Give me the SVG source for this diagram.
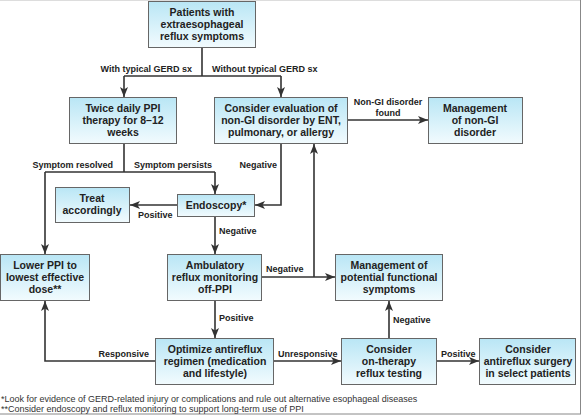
<svg xmlns="http://www.w3.org/2000/svg" width="583" height="416" viewBox="0 0 583 416">
<defs>
<linearGradient id="g" x1="0" y1="0" x2="0" y2="1">
<stop offset="0" stop-color="#b9e6f5"/>
<stop offset="1" stop-color="#f2fbfe"/>
</linearGradient>
<marker id="a" viewBox="0 0 10 10" refX="10" refY="5" markerWidth="10" markerHeight="10" markerUnits="userSpaceOnUse" orient="auto">
<path d="M0,1 L10,5 L0,9 L2.5,5 Z" fill="#333"/>
</marker>
<style>
.b{fill:url(#g);stroke:#666;stroke-width:1}
.t{font-family:"Liberation Sans",Arial,sans-serif;font-weight:bold;font-size:10.5px;fill:#222;text-anchor:middle}
.l{font-family:"Liberation Sans",Arial,sans-serif;font-weight:bold;font-size:9px;fill:#222}
.c{fill:none;stroke:#333;stroke-width:1.6}
.f{font-family:"Liberation Sans",Arial,sans-serif;font-size:9px;fill:#333}
</style>
</defs>
<rect x="0" y="0" width="583" height="416" fill="#fff"/>
<line x1="0" y1="0.5" x2="581" y2="0.5" stroke="#ddd" stroke-width="1"/>
<line x1="580.5" y1="0" x2="580.5" y2="414" stroke="#888" stroke-width="1"/>
<line x1="0" y1="414" x2="581" y2="414" stroke="#888" stroke-width="1"/>

<g id="connectors">
<path class="c" d="M202,48 V76"/>
<path class="c" d="M124,76 H281"/>
<path class="c" d="M124,76 V97" marker-end="url(#a)"/>
<path class="c" d="M281,76 V97" marker-end="url(#a)"/>
<path class="c" d="M348,120 H428" marker-end="url(#a)"/>
<path class="c" d="M124,144 V172"/>
<path class="c" d="M45,172 H215"/>
<path class="c" d="M45,172 V254" marker-end="url(#a)"/>
<path class="c" d="M215,172 V194" marker-end="url(#a)"/>
<path class="c" d="M281,144 V205 H255" marker-end="url(#a)"/>
<path class="c" d="M177,205 H130" marker-end="url(#a)"/>
<path class="c" d="M215,216 V254" marker-end="url(#a)"/>
<path class="c" d="M262,277 H335" marker-end="url(#a)"/>
<path class="c" d="M314,277 V144" marker-end="url(#a)"/>
<path class="c" d="M215,301 V338" marker-end="url(#a)"/>
<path class="c" d="M155,361 H45 V301" marker-end="url(#a)"/>
<path class="c" d="M274,361 H341" marker-end="url(#a)"/>
<path class="c" d="M389,338 V301" marker-end="url(#a)"/>
<path class="c" d="M437,361 H479" marker-end="url(#a)"/>
<text class="l" x="192" y="72" text-anchor="end">With typical GERD sx</text>
<text class="l" x="212" y="72">Without typical GERD sx</text>
<text class="l" x="388" y="105" text-anchor="middle">Non-GI disorder</text>
<text class="l" x="388" y="116" text-anchor="middle">found</text>
<text class="l" x="113" y="168" text-anchor="end">Symptom resolved</text>
<text class="l" x="134" y="168">Symptom persists</text>
<text class="l" x="277" y="168" text-anchor="end">Negative</text>
<text class="l" x="138" y="218">Positive</text>
<text class="l" x="219" y="234">Negative</text>
<text class="l" x="266" y="272">Negative</text>
<text class="l" x="219" y="321">Positive</text>
<text class="l" x="149" y="357" text-anchor="end">Responsive</text>
<text class="l" x="278" y="357">Unresponsive</text>
<text class="l" x="393" y="323">Negative</text>
<text class="l" x="441" y="357">Positive</text>
</g>

<g id="patients"><rect class="b" x="148.5" y="1.5" width="107" height="46"/>
<text class="t" x="202" y="16">Patients with</text><text class="t" x="202" y="28">extraesophageal</text><text class="t" x="202" y="40">reflux symptoms</text></g>

<g id="ppi"><rect class="b" x="69.5" y="97.5" width="107" height="46"/>
<text class="t" x="123" y="112">Twice daily PPI</text><text class="t" x="123" y="124">therapy for 8–12</text><text class="t" x="123" y="136">weeks</text></g>

<g id="eval"><rect class="b" x="214.5" y="97.5" width="133" height="46"/>
<text class="t" x="281" y="112">Consider evaluation of</text><text class="t" x="281" y="124">non-GI disorder by ENT,</text><text class="t" x="281" y="136">pulmonary, or allergy</text></g>

<g id="nongi"><rect class="b" x="428.5" y="97.5" width="94" height="46"/>
<text class="t" x="475" y="112">Management</text><text class="t" x="475" y="124">of non-GI</text><text class="t" x="475" y="136">disorder</text></g>

<g id="treat"><rect class="b" x="55.5" y="187.5" width="74" height="35"/>
<text class="t" x="92" y="202">Treat</text><text class="t" x="92" y="214">accordingly</text></g>

<g id="endoscopy"><rect class="b" x="177.5" y="194.5" width="77" height="22"/>
<text class="t" x="216" y="209">Endoscopy*</text></g>

<g id="lower"><rect class="b" x="0.5" y="254.5" width="89" height="46"/>
<text class="t" x="45" y="269">Lower PPI to</text><text class="t" x="45" y="281">lowest effective</text><text class="t" x="45" y="293">dose**</text></g>

<g id="ambulatory"><rect class="b" x="167.5" y="254.5" width="94" height="46"/>
<text class="t" x="215" y="269">Ambulatory</text><text class="t" x="215" y="281">reflux monitoring</text><text class="t" x="215" y="293">off-PPI</text></g>

<g id="functional"><rect class="b" x="335.5" y="254.5" width="107" height="46"/>
<text class="t" x="389" y="269">Management of</text><text class="t" x="389" y="281">potential functional</text><text class="t" x="389" y="293">symptoms</text></g>

<g id="optimize"><rect class="b" x="155.5" y="338.5" width="118" height="46"/>
<text class="t" x="215" y="353">Optimize antireflux</text><text class="t" x="215" y="365">regimen (medication</text><text class="t" x="215" y="377">and lifestyle)</text></g>

<g id="ontherapy"><rect class="b" x="341.5" y="338.5" width="95" height="46"/>
<text class="t" x="389" y="353">Consider</text><text class="t" x="389" y="365">on-therapy</text><text class="t" x="389" y="377">reflux testing</text></g>

<g id="surgery"><rect class="b" x="479.5" y="338.5" width="96" height="46"/>
<text class="t" x="528" y="353">Consider</text><text class="t" x="528" y="365">antireflux surgery</text><text class="t" x="528" y="377">in select patients</text></g>

<text class="f" x="1" y="402">*Look for evidence of GERD-related injury or complications and rule out alternative esophageal diseases</text>
<text class="f" x="1" y="411.5">**Consider endoscopy and reflux monitoring to support long-term use of PPI</text>
</svg>
